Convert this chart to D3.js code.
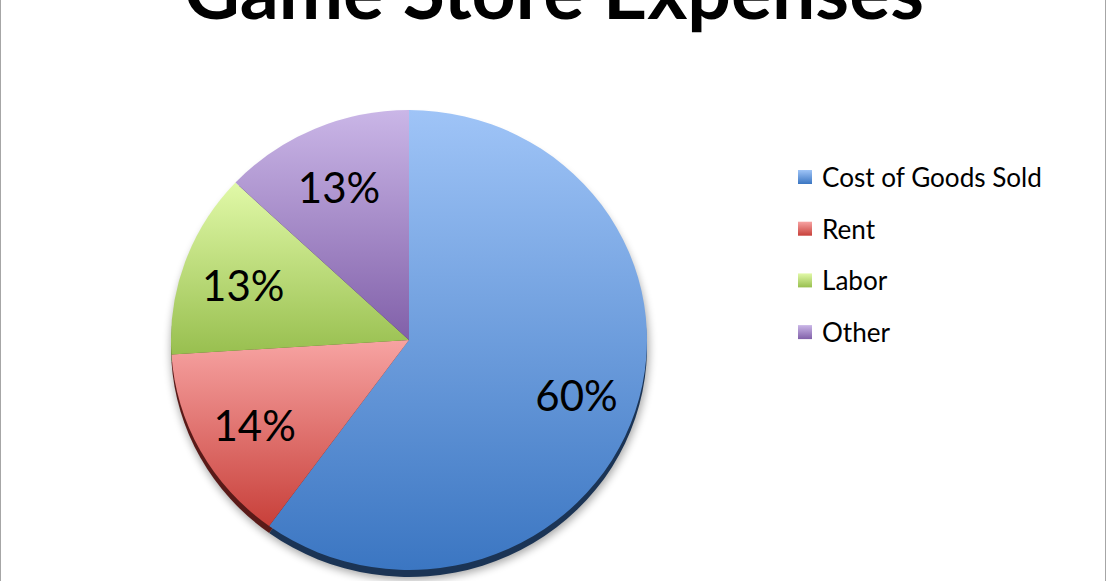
<!DOCTYPE html>
<html>
<head>
<meta charset="utf-8">
<script src="https://cdn.jsdelivr.net/npm/d3@7"></script>
<style>
  body { margin: 0; background: #fff; }
  text { font-family: Lato, "Open Sans", sans-serif; }
</style>
</head>
<body>
<script>
const categories = ["Cost of Goods Sold", "Rent", "Labor", "Other"];
const values = [60, 14, 13, 13];
const topColors = ["#9fc4f7", "#f7a3a2", "#e1f9a8", "#cab6e7"];
const bottomColors = ["#3b76c2", "#c8403a", "#98bf4f", "#8160a9"];
const edgeColors = ["#1b3455", "#5a1a18", "#4a6222", "#3e2d55"];

const W = 1107, H = 581;
const cx = 409, cy = 340, R = 238, sy = 0.966;

const svg = d3.select("body")
    .append("svg")
    .attr("width", W)
    .attr("height", H);

const defs = svg.append("defs");

categories.forEach((c, i) => {
    const g = defs.append("linearGradient")
        .attr("id", "grad" + i)
        .attr("x1", 0).attr("y1", 0)
        .attr("x2", 0).attr("y2", 1);
    g.append("stop").attr("offset", "0%").attr("stop-color", topColors[i]);
    g.append("stop").attr("offset", "100%").attr("stop-color", bottomColors[i]);
});

const shadow = defs.append("filter")
    .attr("id", "shadow")
    .attr("x", "-10%").attr("y", "-10%")
    .attr("width", "120%").attr("height", "125%");
shadow.append("feGaussianBlur").attr("stdDeviation", 4);

// frame
svg.append("rect")
    .attr("x", 0.5).attr("y", -10)
    .attr("width", W - 2).attr("height", H + 20)
    .attr("fill", "none")
    .attr("stroke", "#a6a6a6");

// title (cut off at the top, as in the source)
const title = svg.append("text")
    .attr("x", 554)
    .attr("y", 19)
    .attr("text-anchor", "middle")
    .attr("font-weight", "bold")
    .attr("font-size", 80)
    .attr("fill", "#000")
    .text("Game Store Expenses");
const tw = title.node().getComputedTextLength();
title.attr("font-size", 80 * 740 / tw);

const pie = d3.pie().sort(null).value(d => d);
const arcs = pie(values);
const arc = d3.arc().innerRadius(0).outerRadius(R);

// soft shadow
svg.append("ellipse")
    .attr("cx", cx + 1).attr("cy", cy + 9)
    .attr("rx", R + 1).attr("ry", R * sy + 1)
    .attr("fill", "#000")
    .attr("opacity", 0.35)
    .attr("filter", "url(#shadow)");

const edge = svg.append("g")
    .attr("transform", `translate(${cx}, ${cy + 7}) scale(1, ${sy})`);
edge.selectAll("path")
    .data(arcs)
    .enter()
    .append("path")
    .attr("d", arc)
    .attr("fill", (d, i) => edgeColors[i]);

const pieG = svg.append("g")
    .attr("transform", `translate(${cx}, ${cy}) scale(1, ${sy})`);
pieG.selectAll("path")
    .data(arcs)
    .enter()
    .append("path")
    .attr("d", arc)
    .attr("fill", (d, i) => `url(#grad${i})`);

const labelArc = d3.arc().innerRadius(R * 0.74).outerRadius(R * 0.74);
svg.selectAll(".lbl")
    .data(arcs)
    .enter()
    .append("text")
    .attr("class", "lbl")
    .attr("x", d => cx + labelArc.centroid(d)[0])
    .attr("y", d => cy + labelArc.centroid(d)[1] * sy)
    .attr("dy", "0.45em")
    .attr("text-anchor", "middle")
    .attr("font-size", 42)
    .attr("fill", "#000")
    .text(d => Math.round(d.value / d3.sum(values) * 100) + "%");

// legend
const legend = svg.append("g");
const items = legend.selectAll("g")
    .data(categories)
    .enter()
    .append("g")
    .attr("transform", (d, i) => `translate(798, ${187 + i * 51.7})`);
items.append("rect")
    .attr("x", 0).attr("y", -17)
    .attr("width", 14).attr("height", 14)
    .attr("fill", (d, i) => `url(#grad${i})`);
items.append("text")
    .attr("x", 24)
    .attr("y", 0)
    .attr("font-size", 24)
    .attr("fill", "#000")
    .text(d => d);
const lw = items.select("text").node().getComputedTextLength();
items.selectAll("text").attr("font-size", 24 * 220 / lw);
</script>
</body>
</html>
